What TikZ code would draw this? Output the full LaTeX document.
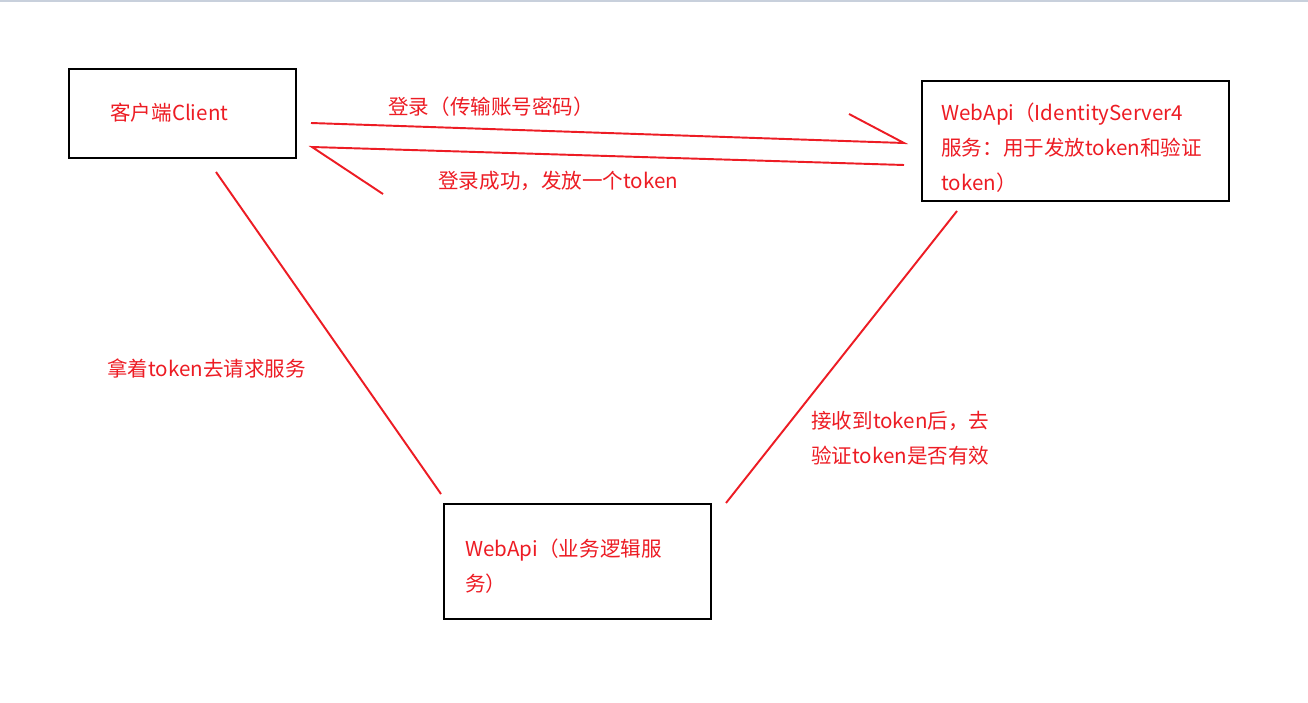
\documentclass[tikz,border=0pt]{standalone}
\usepackage{fontspec}
\setmainfont{Noto Sans CJK SC}
\definecolor{myred}{RGB}{237,28,36}
\definecolor{topline}{RGB}{200,208,220}
\begin{document}
\begin{tikzpicture}[x=0.02cm,y=-0.02cm,
  box/.style={draw=black,line width=1.6pt},
  red line/.style={draw=myred,line width=1.1pt},
  lbl/.style={text=myred,font=\fontsize{11.7}{20}\selectfont,anchor=west,inner sep=0pt,align=left}]
\useasboundingbox (0,0) rectangle (1308,703);
\fill[white] (0,0) rectangle (1308,703);
\draw[topline,line width=1.2pt] (0,1) -- (1308,1);
\draw[box] (69,69) rectangle (296,158);
\draw[box] (922,81) rectangle (1229,201);
\draw[box] (444,504) rectangle (711,619);
\node[lbl] (c) at (110,113) {客户端Client};
\node[lbl] (s) at (941,148) {WebApi（IdentityServer4\\服务：用于发放token和验证\\token）};
\node[lbl] (w) at (465,566) {WebApi（业务逻辑服\\务）};
\node[lbl] (l1) at (388,107) {登录（传输账号密码）};
\node[lbl] (l2) at (438,181) {登录成功，发放一个token};
\node[lbl] (l3) at (107,368) {拿着token去请求服务};
\node[lbl] (l4) at (811,438) {接收到token后，去\\验证token是否有效};
\coordinate (a1) at (311,123); \coordinate (a2) at (904,143); \coordinate (h1) at (849,114);
\coordinate (b1) at (904,165); \coordinate (b2) at (312,147); \coordinate (h2) at (383,194);
\coordinate (p1) at (216,172); \coordinate (p2) at (441,494);
\coordinate (q1) at (957,211); \coordinate (q2) at (726,503);
\draw[red line] (a1) -- (a2) -- (h1);
\draw[red line] (b1) -- (b2) -- (h2);
\draw[red line] (p1) -- (p2);
\draw[red line] (q1) -- (q2);
\end{tikzpicture}
\end{document}
